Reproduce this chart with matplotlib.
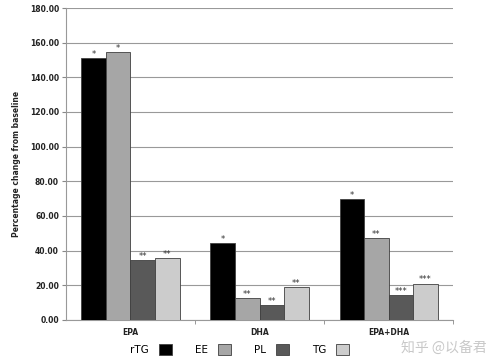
import numpy as np
import matplotlib
matplotlib.use("Agg")
import matplotlib.pyplot as plt

categories = ["EPA", "DHA", "EPA+DHA"]
series = ["rTG", "EE", "PL", "TG"]
rtg = [151.0, 44.5, 69.6]
ee = [154.7, 12.6, 47.2]
pl = [34.7, 8.7, 14.5]
tg = [35.5, 18.9, 21.0]
stars = [["*", "*", "**", "**"],
         ["*", "**", "**", "**"],
         ["*", "**", "***", "***"]]
colors = ["#000000", "#a6a6a6", "#595959", "#cccccc"]

plt.rcParams['font.family'] = ['DejaVu Sans', 'Noto Sans CJK SC']

fig = plt.figure(figsize=(4.92, 3.64), dpi=100)
ax = fig.add_axes([0.134, 0.121, 0.787, 0.857])

values = [rtg, ee, pl, tg]
x = np.arange(len(categories))
w = 0.19
for i, (vals, c) in enumerate(zip(values, colors)):
    pos = x + (i - 1.5) * w
    ax.bar(pos, vals, width=w, color=c, edgecolor="#404040", linewidth=0.6,
           label=series[i], zorder=3)
    for j, v in enumerate(vals):
        ax.text(pos[j], v - 0.5, stars[j][i], ha="center", va="bottom",
                fontsize=6, color="#333333", zorder=4)

ax.set_xlim(-0.5, 2.5)
ax.set_ylim(0, 180)
ax.set_yticks(np.arange(0, 181, 20))
ax.set_yticklabels([f"{t:.2f}" for t in np.arange(0, 181, 20)], fontsize=5.5,
                   fontweight="bold", color="#222222")
ax.set_xticks(x)
ax.set_xticklabels(categories, fontsize=5.5, fontweight="bold", color="#222222")
ax.set_xticks([0.5, 1.5, 2.5], minor=True)
ax.tick_params(axis="x", which="major", length=0, pad=6)
ax.tick_params(axis="x", which="minor", length=3, color="#888888", direction="out")
ax.tick_params(axis="y", length=3, color="#888888", pad=2)
ax.grid(axis="y", color="#999999", linewidth=0.8, zorder=0)
for s in ["top", "right"]:
    ax.spines[s].set_visible(False)
for s in ["left", "bottom"]:
    ax.spines[s].set_color("#999999")
    ax.spines[s].set_linewidth(0.8)
ax.set_ylabel("Percentage change from baseline", fontsize=5.5, fontweight="bold",
              color="#222222", labelpad=6)

fig.legend(loc="center", bbox_to_anchor=(0.487, 0.04), ncol=4, frameon=False,
           markerfirst=False, fontsize=7.5, handlelength=1.2, handleheight=1.3,
           columnspacing=2.2, handletextpad=1.0)

fig.text(0.99, 0.045, "知乎 @以备君", ha="right", va="center", fontsize=10,
         color="#c8c8c8", family=['Noto Sans CJK SC', 'DejaVu Sans'])

fig.savefig("out.png", dpi=100)
